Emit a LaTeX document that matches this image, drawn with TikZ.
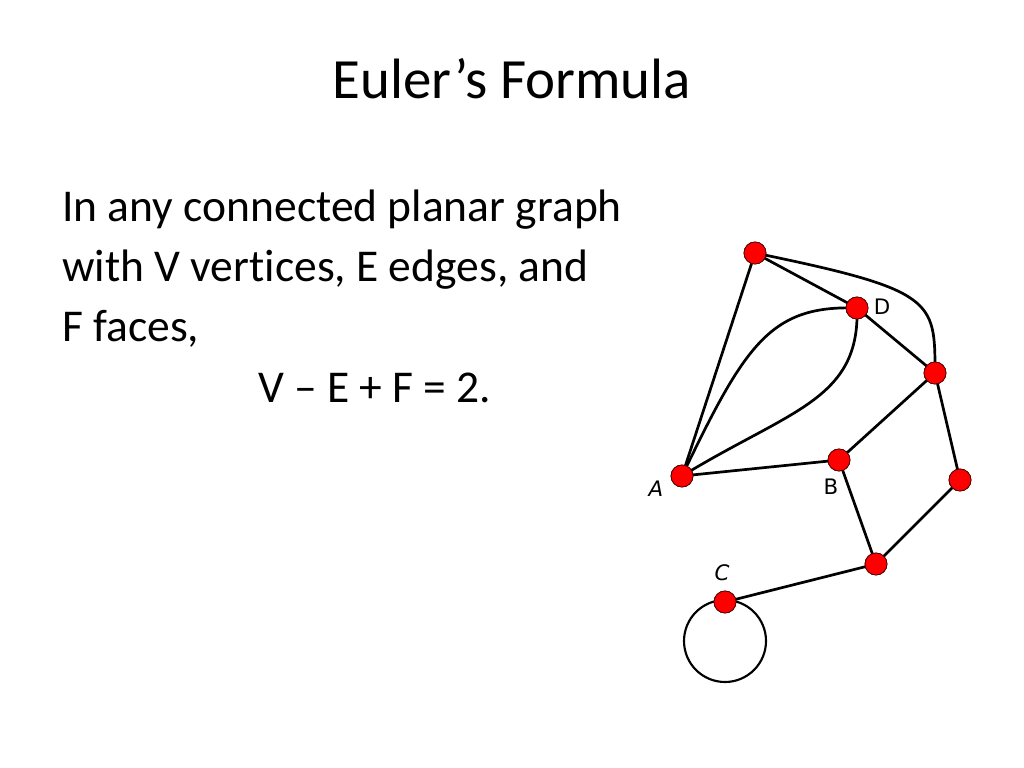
\documentclass[tikz,border=0pt]{standalone}
\usepackage{fontspec}
\setmainfont{Carlito}[Ligatures=NoCommon]
\newfontfamily\lblfont{DejaVu Sans}
\begin{document}
\begin{tikzpicture}[x=0.703125pt,y=-0.703125pt,
  vtx/.style={circle,fill=red,draw=black!70!red,line width=0.5pt,minimum size=15.5pt,inner sep=0pt},
  edg/.style={line width=1.9pt,black},
  lbl/.style={font=\lblfont\fontsize{15}{15}\selectfont,inner sep=0pt},
  body/.style={font=\fontsize{32}{38}\selectfont,anchor=base west,inner sep=0pt}]
\useasboundingbox (0,0) rectangle (1024,768);
\node[font=\fontsize{40}{46}\selectfont,inner sep=0pt,anchor=base] (title) at (512,99) {Euler’s Formula};
\node[body] (l1) at (62,222) {In any connected planar graph};
\node[body] (l2) at (62,282) {with V vertices, E edges, and};
\node[body] (l3) at (62,342) {F faces,};
\node[body] (l4) at (258,402) {V – E + F = 2.};
% vertices
\node[vtx] (T) at (755,253) {};
\node[vtx] (D) at (857,308) {};
\node[vtx] (E) at (935,373) {};
\node[vtx] (A) at (682,476) {};
\node[vtx] (B) at (839,460) {};
\node[vtx] (F) at (960,480) {};
\node[vtx] (G) at (876,564) {};
\node[vtx] (C) at (725,602) {};
\coordinate (Lc) at (725,641);
% edges
\draw[edg] (T.center) -- (A.center);
\draw[edg] (T.center) -- (D.center);
\draw[edg] (T.center) .. controls (935,290) and (935,300) .. (E.center);
\draw[edg] (D.center) -- (E.center);
\draw[edg] (D.center) .. controls (770,305) and (745,345) .. (A.center);
\draw[edg] (D.center) .. controls (860,400) and (790,410) .. (A.center);
\draw[edg] (A.center) -- (B.center);
\draw[edg] (B.center) -- (E.center);
\draw[edg] (E.center) -- (F.center);
\draw[edg] (F.center) -- (G.center);
\draw[edg] (B.center) -- (G.center);
\draw[edg] (G.center) -- (C.center);
\draw[line width=1.5pt] (Lc) circle (41);
\foreach \n in {T,D,E,A,B,F,G,C} {\node[vtx] at (\n) {};}
\node[lbl] (lD) at (882,307) {D};
\node[lbl] (lA) at (656,489) {\itshape A};
\node[lbl] (lB) at (831,487) {B};
\node[lbl] (lC) at (722,573) {\itshape C};
\end{tikzpicture}
\end{document}
